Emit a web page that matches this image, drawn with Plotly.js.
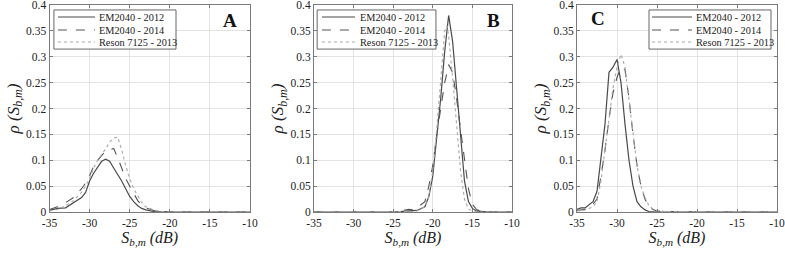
<!DOCTYPE html>
<html><head><meta charset="utf-8">
<script src="https://cdn.plot.ly/plotly-3.0.1.min.js"></script>
<style>html,body{margin:0;padding:0;background:#fff}#g{width:785px;height:254px}</style>
</head><body><div id="g"></div>
<script>
const seriesNames = ['EM2040 - 2012', 'EM2040 - 2014', 'Reson 7125 - 2013'];
const panelLabels = ['A', 'B', 'C'];
const xTicks = [-35, -30, -25, -20, -15, -10];
const yTicks = [0, 0.05, 0.1, 0.15, 0.2, 0.25, 0.3, 0.35, 0.4];

// Panel A
const xA = [-35,-34,-33,-32,-31,-30.5,-30,-29.5,-29,-28.5,-28,-27.5,-27,-26.5,-26,-25.5,-25,-24.5,-24,-23.5,-23,-22,-21,-20,-15,-10];
const aEM2012 = [0.003,0.007,0.008,0.018,0.028,0.038,0.060,0.075,0.087,0.098,0.102,0.098,0.085,0.073,0.060,0.045,0.030,0.020,0.012,0.007,0.004,0.001,0,0,0,0];
const aEM2014 = [0.005,0.010,0.018,0.028,0.045,0.056,0.070,0.088,0.100,0.110,0.118,0.120,0.123,0.105,0.085,0.065,0.050,0.035,0.022,0.013,0.008,0.003,0.001,0,0,0];
const aReson  = [0.002,0.005,0.012,0.022,0.038,0.050,0.065,0.085,0.100,0.110,0.122,0.135,0.143,0.145,0.120,0.090,0.065,0.045,0.030,0.018,0.010,0.004,0.001,0,0,0];

// Panel B
const xB = [-35,-30,-25,-23,-22.5,-22,-21,-20.5,-20,-19.5,-19,-18.5,-18.2,-18,-17.5,-17,-16.5,-16,-15.5,-15,-14.5,-14,-13,-10];
const bEM2012 = [0,0,0,0.002,0.002,0.003,0.010,0.030,0.070,0.140,0.220,0.310,0.350,0.380,0.330,0.240,0.140,0.060,0.020,0.007,0.002,0.001,0,0];
const bEM2014 = [0,0,0,0.005,0.004,0.008,0.020,0.050,0.090,0.150,0.200,0.250,0.270,0.285,0.270,0.220,0.160,0.100,0.045,0.015,0.005,0.002,0,0];
const bReson  = [0,0,0,0,0.001,0.002,0.010,0.030,0.080,0.160,0.250,0.350,0.360,0.340,0.260,0.170,0.080,0.025,0.006,0.002,0.001,0,0,0];

// Panel C
const xC = [-35,-34.5,-34,-33,-32.5,-32,-31.5,-31,-30.5,-30,-29.5,-29,-28.5,-28,-27.5,-27,-26.5,-26,-25.5,-25,-24,-20,-15,-10];
const cEM2012 = [0.005,0.008,0.008,0.020,0.040,0.100,0.170,0.270,0.280,0.295,0.250,0.170,0.100,0.050,0.020,0.010,0.004,0.001,0,0,0,0,0,0];
const cEM2014 = [0.003,0.004,0.005,0.015,0.025,0.070,0.120,0.180,0.230,0.260,0.280,0.275,0.220,0.150,0.090,0.050,0.025,0.010,0.005,0.002,0.001,0,0,0];
const cReson  = [0.002,0.003,0.004,0.010,0.020,0.060,0.120,0.190,0.240,0.280,0.305,0.280,0.220,0.150,0.090,0.050,0.028,0.012,0.006,0.003,0.001,0,0,0];

const panels = [
  {x: xA, ys: [aEM2012, aEM2014, aReson]},
  {x: xB, ys: [bEM2012, bEM2014, bReson]},
  {x: xC, ys: [cEM2012, cEM2014, cReson]}
];

const lineStyles = [
  {color: '#4a4a4a', width: 1.2, dash: 'solid'},
  {color: '#555555', width: 1.1, dash: 'dash'},
  {color: '#a8a8a8', width: 1.1, dash: 'dot'}
];

const W = 785, H = 254;
const plotBox = [ [49.5, 250], [314, 512], [577, 777] ];
const topPx = 5, botPx = 212;
const serif = '"Liberation Serif", "Times New Roman", serif';

const traces = [];
const layout = {
  width: W, height: H, margin: {l:0, r:0, t:0, b:0},
  paper_bgcolor: '#fff', plot_bgcolor: '#fff', showlegend: false,
  font: {family: serif, color: '#222', size: 11.5},
  shapes: [], annotations: []
};

const legGeom = [
  {bx0: 0.022, bx1: 0.631, lx0: 0.042, lx1: 0.227, tx: 0.235, lab: {x: 0.90, y: 0.925}},
  {bx0: 0.016, bx1: 0.616, lx0: 0.040, lx1: 0.207, tx: 0.222, lab: {x: 0.905, y: 0.925}},
  {bx0: 0.360, bx1: 0.970, lx0: 0.375, lx1: 0.575, tx: 0.583, lab: {x: 0.105, y: 0.935}}
];
const rowY = [0.942, 0.879, 0.821];

panels.forEach((p, i) => {
  const n = i === 0 ? '' : String(i + 1);
  const xa = 'x' + n, ya = 'y' + n;
  p.ys.forEach((y, k) => {
    traces.push({x: p.x, y: y, xaxis: xa, yaxis: ya, type: 'scatter', mode: 'lines',
      name: seriesNames[k], line: lineStyles[k], hoverinfo: 'skip'});
  });
  const axCommon = {showline: true, mirror: 'ticks', linecolor: '#7a7a7a', linewidth: 1,
    ticks: 'inside', ticklen: 3, tickcolor: '#7a7a7a', showgrid: true, gridcolor: '#e3e3e3',
    gridwidth: 1, zeroline: false, ticklabeloverflow: 'allow',
    tickfont: {family: serif, size: 11.5, color: '#222'}};
  layout['xaxis' + n] = Object.assign({}, axCommon, {
    domain: [plotBox[i][0] / W, plotBox[i][1] / W], anchor: ya,
    range: [-35, -10], tickmode: 'array', tickvals: xTicks, ticktext: xTicks.map(String),
    title: {text: '<i>S<sub>b,m</sub> (dB)</i>', font: {family: serif, size: 16, color: '#222'}, standoff: 3}
  });
  layout['yaxis' + n] = Object.assign({}, axCommon, {
    domain: [(H - botPx) / H, (H - topPx) / H], anchor: xa,
    range: [0, 0.4002], tickmode: 'array', tickvals: yTicks, ticktext: yTicks.map(String),
    title: {text: '<i>ρ (S<sub>b,m</sub>)</i>', font: {family: serif, size: 17, color: '#222'}, standoff: 2}
  });
  const g = legGeom[i];
  const xr = xa + ' domain', yr = ya + ' domain';
  layout.shapes.push({type: 'rect', xref: xr, yref: yr, x0: g.bx0, x1: g.bx1, y0: 0.787, y1: 0.976,
    fillcolor: '#fff', line: {color: '#666', width: 1}, layer: 'above'});
  for (let k = 0; k < 3; k++) {
    layout.shapes.push({type: 'line', xref: xr, yref: yr, x0: g.lx0, x1: g.lx1, y0: rowY[k], y1: rowY[k],
      line: lineStyles[k], layer: 'above'});
    layout.annotations.push({xref: xr, yref: yr, x: g.tx, y: rowY[k], xanchor: 'left', yanchor: 'middle',
      text: seriesNames[k], showarrow: false, font: {family: serif, size: 10.3, color: '#222'}});
  }
  layout.annotations.push({xref: xr, yref: yr, x: g.lab.x, y: g.lab.y, xanchor: 'center', yanchor: 'middle',
    text: '<b>' + panelLabels[i] + '</b>', showarrow: false, font: {family: serif, size: 19, color: '#111'}});
});

Plotly.newPlot('g', traces, layout, {staticPlot: true, displayModeBar: false});
</script></body></html>
